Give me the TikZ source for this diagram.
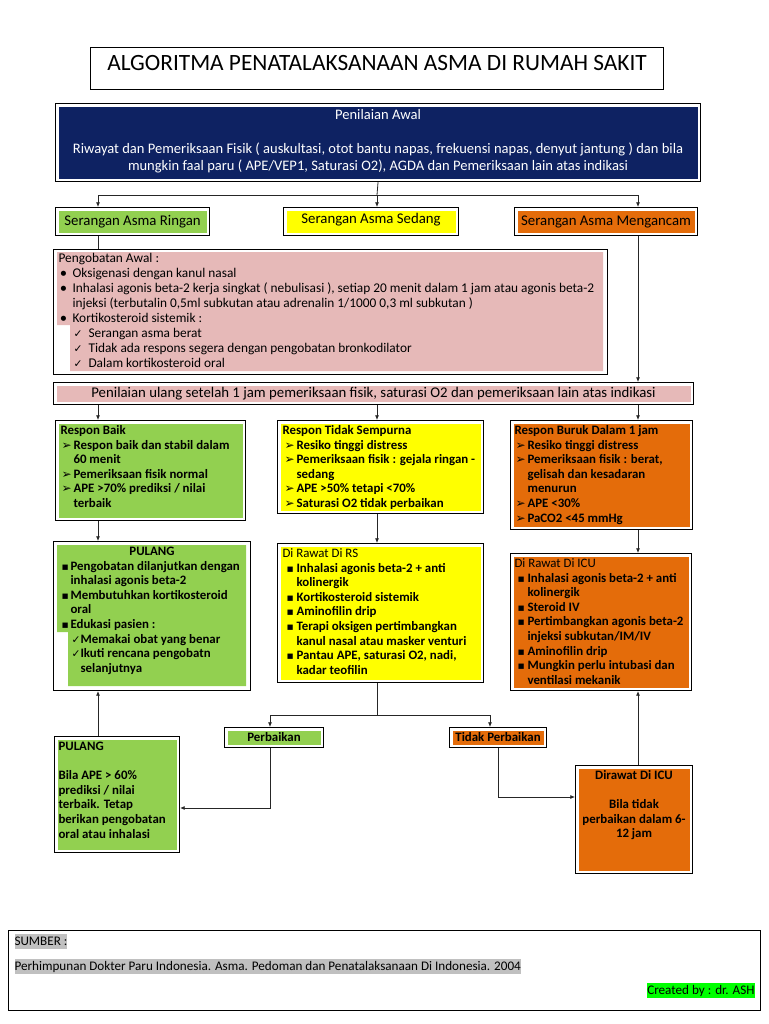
\documentclass[tikz,border=0pt]{standalone}
\usepackage{fontspec}
\setmainfont{Carlito}
\newfontfamily\symf{DejaVu Sans}
\usetikzlibrary{arrows.meta}
\definecolor{awblue}{HTML}{0E2262}
\definecolor{grn}{HTML}{92D050}
\definecolor{ylw}{HTML}{FFFF00}
\definecolor{org}{HTML}{E46C0A}
\definecolor{pnk}{HTML}{E6B9B8}
\definecolor{hlgrey}{HTML}{C0C0C0}
\definecolor{hlgreen}{HTML}{00FF00}
\newcommand{\bul}{\raisebox{1.6pt}{\symf\fontsize{5}{5}\selectfont ●}}
\newcommand{\arw}{{\symf\fontsize{9}{9}\selectfont ➢}}
\newcommand{\sqb}{{\symf\fontsize{8}{8}\selectfont ▪}}
\newcommand{\chk}{{\symf\fontsize{8}{8}\selectfont ✓}}
\newcommand{\itm}[3]{\par\noindent\hangindent=#2\hangafter=1\hspace*{#1}\makebox[\dimexpr#2-#1\relax][l]{#3}\ignorespaces}
\newcommand{\hlt}[2]{{\setlength{\fboxsep}{0pt}\colorbox{#1}{\rule[-2.6pt]{0pt}{11pt}#2}}}
\tikzset{
  frame/.style={draw=black,line width=.8pt,anchor=north west,inner ysep=0pt,align=flush left},
  fillin/.style={path picture={\fill[#1]([shift={(3,3)}]path picture bounding box.north west)rectangle([shift={(-3,-3)}]path picture bounding box.south east);}},
  body/.style={font=\fontsize{10}{11.2}\selectfont},
  bodyb/.style={font=\bfseries\fontsize{9.65}{10.95}\selectfont},
  conn/.style={draw=black!85,line width=.6pt},
  arr/.style={conn,-{Latex[length=3.5pt,width=3pt]}}
}
\begin{document}
\begin{tikzpicture}[x=0.75pt,y=-0.75pt]
        \useasboundingbox (0,0) rectangle (768,1024);

        \node[frame,inner xsep=0pt,text width=429.75pt,text height=17.25pt,text depth=14.25pt,align=flush center,font=\fontsize{17.5}{20}\selectfont](ti)at(90,47){ALGORITMA PENATALAKSANAAN ASMA DI RUMAH SAKIT};

        \node[frame,fillin=awblue,inner xsep=4.5pt,text width=474.75pt,text height=12pt,text depth=46.5pt,align=flush center,text=white,font=\fontsize{10.9}{12.8}\selectfont](aw)at(55,103){Penilaian Awal\par\mbox{}\par
          Riwayat dan Pemeriksaan Fisik ( auskultasi, otot bantu napas, frekuensi napas, denyut jantung ) dan bila\par
          mungkin faal paru ( APE/VEP1, Saturasi O2), AGDA dan Pemeriksaan lain atas indikasi};

        \node[frame,fillin=grn,inner xsep=0pt,text width=115.5pt,text height=13.5pt,text depth=7.5pt,align=flush center,font=\fontsize{11.1}{13}\selectfont](ri)at(55,207){Serangan Asma Ringan};
        \node[frame,fillin=ylw,inner xsep=0pt,text width=131.25pt,text height=12pt,text depth=9pt,align=flush center,font=\fontsize{11.1}{13}\selectfont](se)at(283,207){Serangan Asma Sedang};
        \node[frame,fillin=org,inner xsep=0pt,text width=137.25pt,text height=13.5pt,text depth=7.5pt,align=flush center,font=\fontsize{11.1}{13}\selectfont](me)at(514,207){Serangan Asma Mengancam};

        \fill[pnk](57,252)--(603,252)--(603,371)--(70,371)--(70,325)--(57,325)--cycle;
        \node[frame,body,inner xsep=3.75pt,text width=408pt,text height=9.75pt,text depth=84pt](pa)at(53,249){Pengobatan Awal :
          \itm{1.5pt}{10.5pt}{\bul}Oksigenasi dengan kanul nasal
          \itm{1.5pt}{10.5pt}{\bul}Inhalasi agonis beta-2 kerja singkat ( nebulisasi ), setiap 20 menit dalam 1 jam atau agonis beta-2\newline injeksi (terbutalin 0,5ml subkutan atau adrenalin 1/1000 0,3 ml subkutan )
          \itm{1.5pt}{10.5pt}{\bul}Kortikosteroid sistemik :
          \itm{11.25pt}{22.5pt}{\chk}Serangan asma berat
          \itm{11.25pt}{22.5pt}{\chk}Tidak ada respons segera dengan pengobatan bronkodilator
          \itm{11.25pt}{22.5pt}{\chk}Dalam kortikosteroid oral\par};

        \node[frame,fillin=pnk,inner xsep=0pt,text width=480pt,text height=11.25pt,text depth=5.25pt,align=flush center,font=\fontsize{11.1}{12}\selectfont](pu)at(53,382){Penilaian ulang setelah 1 jam pemeriksaan fisik, saturasi O2 dan pemeriksaan lain atas indikasi};

        \node[frame,bodyb,fillin=grn,inner xsep=3.75pt,text width=135pt,text height=10.5pt,text depth=64.5pt](rb)at(55,420){Respon Baik
          \itm{0.75pt}{9.75pt}{\arw}Respon baik dan stabil dalam\newline 60 menit
          \itm{0.75pt}{9.75pt}{\arw}Pemeriksaan fisik normal
          \itm{0.75pt}{9.75pt}{\arw}APE >70\% prediksi / nilai\newline terbaik\par};
        \node[frame,bodyb,fillin=ylw,inner xsep=3.75pt,text width=147pt,text height=10.5pt,text depth=59.25pt](rt)at(277,420){Respon Tidak Sempurna
          \itm{1.5pt}{10.5pt}{\arw}Resiko tinggi distress
          \itm{1.5pt}{10.5pt}{\arw}Pemeriksaan fisik : gejala ringan -\newline sedang
          \itm{1.5pt}{10.5pt}{\arw}APE >50\% tetapi <70\%
          \itm{1.5pt}{10.5pt}{\arw}Saturasi O2 tidak perbaikan\par};
        \node[frame,bodyb,fillin=org,inner xsep=3pt,text width=130.5pt,text height=10.5pt,text depth=71.25pt](rw)at(510,420){Respon Buruk Dalam 1 jam
          \itm{0.75pt}{9.75pt}{\arw}Resiko tinggi distress
          \itm{0.75pt}{9.75pt}{\arw}Pemeriksaan fisik : berat,\newline gelisah dan kesadaran\newline menurun
          \itm{0.75pt}{9.75pt}{\arw}APE <30\%
          \itm{0.75pt}{9.75pt}{\arw}PaCO2 <45 mmHg\par};

        \fill[grn](57,545)--(246,545)--(246,686)--(68,686)--(68,632)--(57,632)--cycle;
        \node[frame,bodyb,inner xsep=3.75pt,text width=140.25pt,text height=10.5pt,text depth=101.25pt](pl)at(53,541){\makebox[\linewidth]{PULANG}
          \itm{2.25pt}{9pt}{\sqb}Pengobatan dilanjutkan dengan\newline inhalasi agonis beta-2
          \itm{2.25pt}{9pt}{\sqb}Membutuhkan kortikosteroid\newline oral
          \itm{2.25pt}{9pt}{\sqb}Edukasi pasien :
          \itm{9.75pt}{16.5pt}{\chk}Memakai obat yang benar
          \itm{9.75pt}{16.5pt}{\chk}Ikuti rencana pengobatn\newline selanjutnya\par};
        \node[frame,bodyb,fillin=ylw,inner xsep=3.75pt,text width=147pt,text height=10.5pt,text depth=93.75pt](rs)at(277,543){{\mdseries Di Rawat Di RS}
          \itm{3pt}{10.5pt}{\sqb}Inhalasi agonis beta-2 + anti\newline kolinergik
          \itm{3pt}{10.5pt}{\sqb}Kortikosteroid sistemik
          \itm{3pt}{10.5pt}{\sqb}Aminofilin drip
          \itm{3pt}{10.5pt}{\sqb}Terapi oksigen pertimbangkan\newline kanul nasal atau masker venturi
          \itm{3pt}{10.5pt}{\sqb}Pantau APE, saturasi O2, nadi,\newline kadar teofilin\par};
        \node[frame,bodyb,fillin=org,inner xsep=3pt,text width=129.75pt,text height=10.5pt,text depth=92.25pt](ic)at(510,553){{\mdseries Di Rawat Di ICU}
          \itm{2.25pt}{9.75pt}{\sqb}Inhalasi agonis beta-2 + anti\newline kolinergik
          \itm{2.25pt}{9.75pt}{\sqb}Steroid IV
          \itm{2.25pt}{9.75pt}{\sqb}Pertimbangkan agonis beta-2\newline injeksi subkutan/IM/IV
          \itm{2.25pt}{9.75pt}{\sqb}Aminofilin drip
          \itm{2.25pt}{9.75pt}{\sqb}Mungkin perlu intubasi dan\newline ventilasi mekanik\par};

        \node[frame,bodyb,fillin=grn,inner xsep=0pt,text width=74.25pt,text height=10.5pt,text depth=4.5pt,align=flush center](pb)at(224,727){Perbaikan};
        \node[frame,bodyb,fillin=org,inner xsep=0pt,text width=72.75pt,text height=10.5pt,text depth=4.5pt,align=flush center](tp)at(449,727){Tidak Perbaikan};

        \node[frame,bodyb,fillin=grn,inner xsep=3pt,text width=87.75pt,text height=10.5pt,text depth=76.5pt](pl2)at(54,736){PULANG\par\mbox{}\par
          Bila APE > 60\%\newline prediksi / nilai\newline terbaik. Tetap\newline berikan pengobatan\newline oral atau inhalasi\par};
        \node[frame,bodyb,fillin=org,inner xsep=2.25pt,text width=83.25pt,text height=10.5pt,text depth=70.5pt,align=flush center](di)at(575,765){Dirawat Di ICU\par\mbox{}\par
          Bila tidak\par perbaikan dalam 6-\par 12 jam};

        \node[frame,inner xsep=4.5pt,text width=555pt,text height=11.25pt,text depth=48.75pt,font=\fontsize{9.85}{18.4}\selectfont](sb)at(8,930){\hlt{hlgrey}{SUMBER :}\par
          \hlt{hlgrey}{Perhimpunan Dokter Paru Indonesia. Asma. Pedoman dan Penatalaksanaan Di Indonesia. 2004}\par
          \hfill\hlt{hlgreen}{Created by : dr. ASH}\par};

        \coordinate (j1) at (377,195);
        \draw[conn](aw.south)--(j1);
        \draw[arr](j1)-|(98,0 |- ri.north);
        \draw[arr](j1)--(j1 |- se.north);
        \draw[arr](j1)-|(638,0 |- me.north);
        \draw[conn](98,0 |- ri.south)--(98,0 |- pa.north);
        \draw[arr](638,0 |- me.south)--(638,0 |- pu.north);
        \foreach \cx/\n in {98/rb,377/rt,638/rw} \draw[arr](\cx,0 |- pu.south)--(\cx,0 |- \n.north);
        \foreach \cx/\a/\b in {98/rb/pl,377/rt/rs,638/rw/ic} \draw[arr](\cx,0 |- \a.south)--(\cx,0 |- \b.north);
        \coordinate (j2) at (377,715);
        \draw[conn](377,0 |- rs.south)--(j2);
        \draw[arr](j2)-|(270,0 |- pb.north);
        \draw[arr](j2)-|(490,0 |- tp.north);
        \draw[arr](270,0 |- pb.south)|-(pl2.east |- 0,808);
        \draw[arr](498,0 |- tp.south)|-(di.west |- 0,797);
        \draw[arr](98,0 |- pl2.north)--(98,0 |- pl.south);
        \draw[arr](638,0 |- di.north)--(638,0 |- ic.south);
    \end{tikzpicture}
\end{document}
